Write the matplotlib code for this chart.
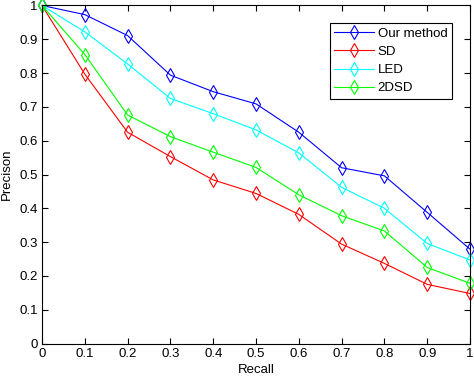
import numpy as np
import matplotlib
matplotlib.use('Agg')
import matplotlib.pyplot as plt

plt.rcParams['font.family'] = ['Liberation Sans', 'DejaVu Sans']

recall = [0, 0.1, 0.2, 0.3, 0.4, 0.5, 0.6, 0.7, 0.8, 0.9, 1.0]
ours = [1.0, 0.973, 0.911, 0.794, 0.745, 0.709, 0.625, 0.52, 0.496, 0.388, 0.279]
sd = [1.0, 0.797, 0.625, 0.553, 0.484, 0.444, 0.382, 0.294, 0.237, 0.175, 0.148]
led = [1.0, 0.922, 0.827, 0.725, 0.68, 0.632, 0.564, 0.462, 0.40, 0.296, 0.247]
dsd2 = [1.0, 0.855, 0.676, 0.612, 0.566, 0.521, 0.44, 0.378, 0.333, 0.225, 0.178]

names = ['Our method', 'SD', 'LED', '2DSD']
colors = ['#0000ff', '#ff0000', '#00ffff', '#00ff00']

fig = plt.figure(figsize=(4.74, 3.76), dpi=100)
ax = fig.add_axes([0.0886, 0.0864, 0.903, 0.899])

for vals, name, c in zip([ours, sd, led, dsd2], names, colors):
    ax.plot(recall, vals, color=c, lw=0.8, marker='d', ms=7,
            mfc='none', mec=c, mew=0.8, label=name, clip_on=False)

ax.set_xlim(0, 1)
ax.set_ylim(0, 1)
ax.set_xticks(np.arange(0, 1.01, 0.1))
ax.set_yticks(np.arange(0, 1.01, 0.1))
ax.set_xticklabels(['0', '0.1', '0.2', '0.3', '0.4', '0.5', '0.6', '0.7', '0.8', '0.9', '1'])
ax.set_yticklabels(['0', '0.1', '0.2', '0.3', '0.4', '0.5', '0.6', '0.7', '0.8', '0.9', '1'])
ax.tick_params(direction='in', length=4, width=0.8, labelsize=9.5,
               top=True, right=True, pad=3)
for s in ax.spines.values():
    s.set_linewidth(0.8)

ax.set_xlabel('Recall', fontsize=9.5, labelpad=3)
ax.set_ylabel('Precison', fontsize=9.5)
ax.yaxis.set_label_coords(-0.069, 0.5)

leg = ax.legend(loc='upper right', bbox_to_anchor=(0.958, 0.948), fontsize=9.5,
                fancybox=False, framealpha=1, edgecolor='black',
                handlelength=3.0, borderpad=0.35, labelspacing=0.45,
                handletextpad=0.3, borderaxespad=0)
leg.get_frame().set_linewidth(0.8)

fig.savefig('out.png', dpi=100)
